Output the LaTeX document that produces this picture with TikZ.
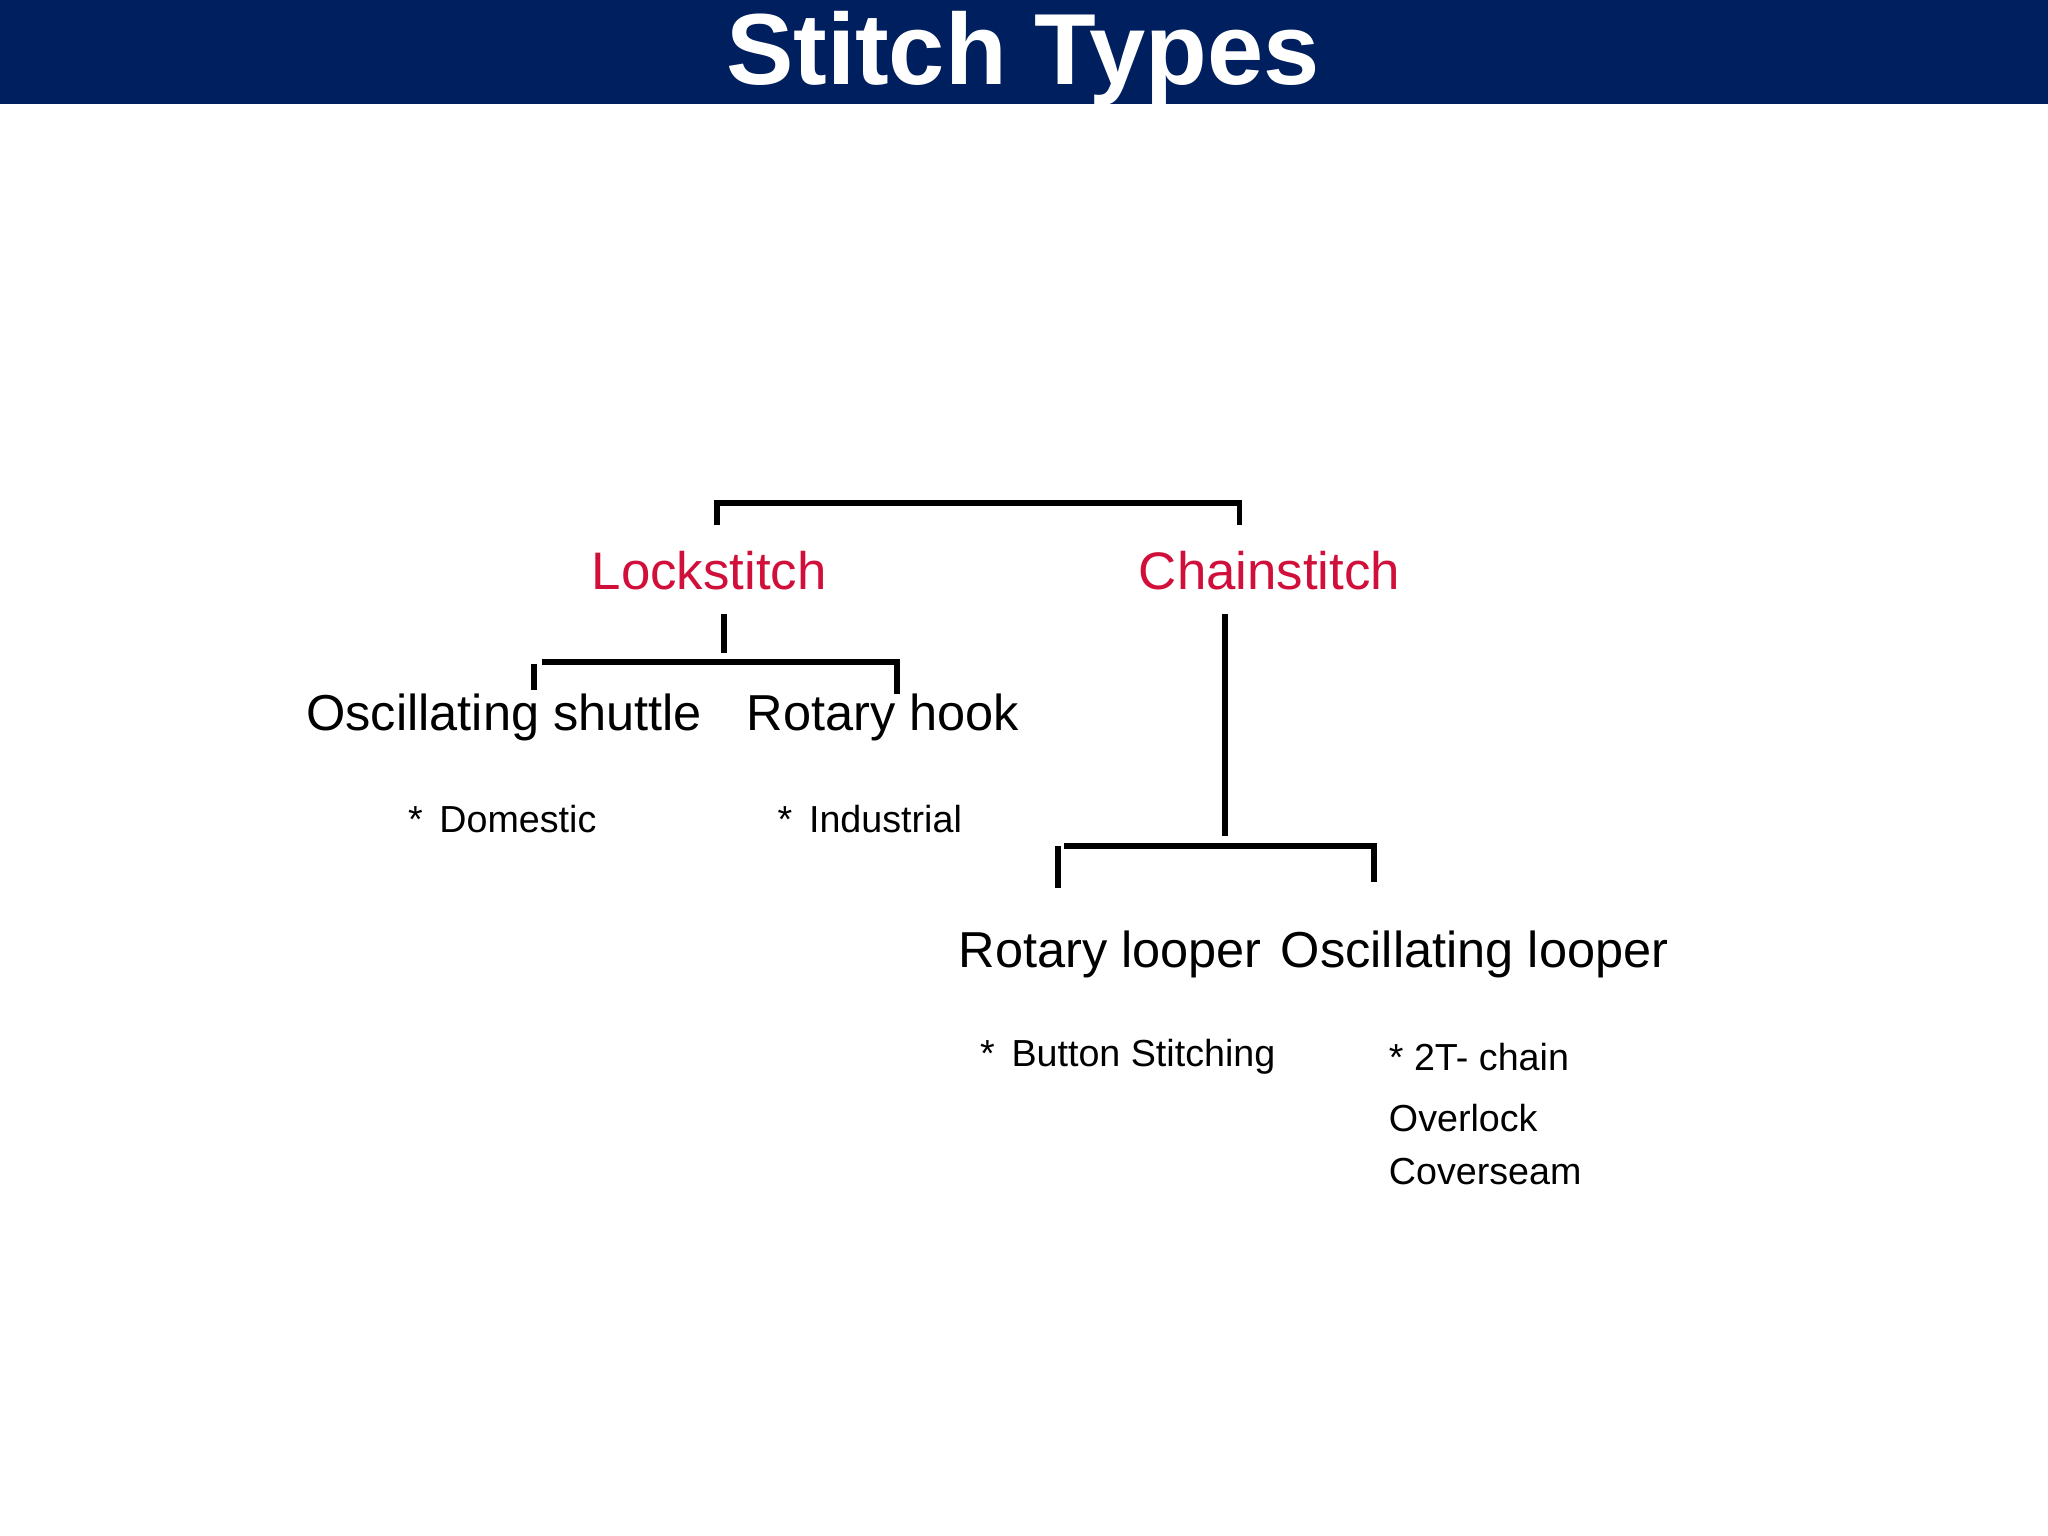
\documentclass[tikz,border=0pt]{standalone}
\usepackage{fontspec}
\setmainfont{Liberation Sans}
\usetikzlibrary{positioning}
\definecolor{navy}{HTML}{001F5F}
\definecolor{stitchred}{HTML}{D0103A}
\tikzset{
  branch/.style={line width=1.3pt,draw=black},
  kind/.style={text=stitchred,font=\fontsize{11.5}{13}\selectfont},
  mech/.style={font=\fontsize{11}{13}\selectfont},
  use/.style={anchor=west,font=\fontsize{8.2}{10}\selectfont}
}
\begin{document}
\begin{tikzpicture}[x=0.01cm,y=-0.01cm]
  \useasboundingbox (0,0) rectangle (1568,1176);
  % title bar
  \fill[navy] (0,0) rectangle (1568,80);
  \node[text=white,font=\bfseries\fontsize{22}{26}\selectfont] (title) at (783,45) {Stitch Types};
  % main kinds
  \node[kind] (lock) at (543,437) {Lockstitch};
  \node[kind] (chain) at (972,437) {Chainstitch};
  \coordinate (topl) at (549,402); \coordinate (topla) at (549,385);
  \coordinate (topr) at (949,402); \coordinate (topra) at (949,385);
  \draw[branch] (topl) -- (topla) -- (topra) -- (topr);
  % lockstitch branch
  \node[mech] (shuttle) at (386,549) {Oscillating shuttle};
  \node[mech] (hook) at (676,549) {Rotary hook};
  \node[use] (domestic) at (300,627) {*\, Domestic};
  \node[use] (industrial) at (583,627) {*\, Industrial};
  \coordinate (ls1) at (554,470); \coordinate (ls2) at (554,500);
  \draw[branch] (ls1) -- (ls2);
  \coordinate (lh1) at (415,507); \coordinate (lh2) at (687,507);
  \coordinate (ll1) at (409,508); \coordinate (ll2) at (409,528);
  \coordinate (lr2) at (687,531);
  \draw[branch] (lh1) -- (lh2) -- (lr2);
  \draw[branch] (ll1) -- (ll2);
  % chainstitch branch
  \node[mech] (rotlooper) at (850,731) {Rotary looper};
  \node[mech] (osclooper) at (1129,731) {Oscillating looper};
  \node[use] (button) at (738,809) {*\, Button Stitching};
  \node[use] (twot) at (1051,809) {* 2T- chain};
  \node[use] (overlock) at (1051,856) {Overlock};
  \node[use] (cover) at (1051,897) {Coverseam};
  \coordinate (cs1) at (938,470); \coordinate (cs2) at (938,640);
  \draw[branch] (cs1) -- (cs2);
  \coordinate (ch1) at (815,648); \coordinate (ch2) at (1052,648);
  \coordinate (cl1) at (810,648); \coordinate (cl2) at (810,680);
  \coordinate (cr2) at (1052,675);
  \draw[branch] (ch1) -- (ch2) -- (cr2);
  \draw[branch] (cl1) -- (cl2);
\end{tikzpicture}
\end{document}
